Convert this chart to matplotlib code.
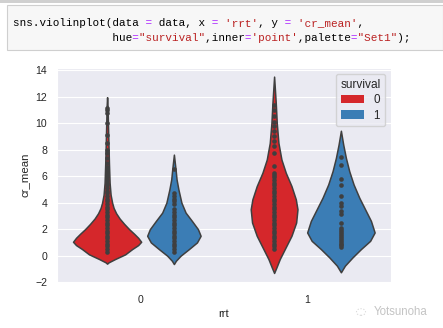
import numpy as np
import matplotlib
matplotlib.use("Agg")
import matplotlib.pyplot as plt
import seaborn as sns
from matplotlib.patches import Rectangle, Patch, Circle

# violin outlines: y value -> half width (category units)
groups = ["0", "1"]
hues = ["0", "1"]
colors = ["#D5272B", "#3B7DB5"]

red0_y = [-0.6, -0.5, -0.25, 0.1, 0.5, 0.8, 1.05, 1.35, 1.65, 2.0, 2.4, 2.8, 3.2, 3.6, 4.0, 4.6, 5.5, 7.0, 8.5, 10.0, 11.2, 11.95]
red0_w = [0, .009, .048, .108, .150, .186, .204, .186, .162, .132, .102, .075, .054, .039, .030, .021, .015, .011, .008, .005, .003, 0]
blue0_y = [-0.63, -0.38, 0.0, 0.5, 1.0, 1.5, 2.0, 2.62, 3.25, 4.0, 4.5, 5.0, 5.75, 6.5, 7.62]
blue0_w = [0, .012, .040, .090, .138, .160, .144, .108, .070, .045, .036, .027, .016, .010, 0]
red1_y = [-1.3, -0.88, -0.25, 0.5, 1.5, 2.5, 3.5, 4.25, 5.25, 6.25, 7.25, 8.5, 10.0, 11.5, 13.5]
red1_w = [0, .014, .034, .064, .104, .132, .140, .130, .104, .070, .044, .026, .016, .010, 0]
blue1_y = [-1.25, -0.75, -0.12, 0.5, 1.12, 1.75, 2.62, 3.37, 4.37, 5.37, 6.37, 7.37, 8.37, 9.42]
blue1_w = [0, .024, .070, .120, .175, .202, .180, .150, .110, .076, .050, .030, .014, 0]

# individual observations (inner='point')
red0_pts = [0.3, 0.5, 0.7, 0.9, 1.1, 1.3, 1.5, 1.7, 1.9, 2.1, 2.3, 2.5, 2.7, 2.9, 3.1, 3.3, 3.5,
            3.7, 3.9, 4.1, 4.3, 4.5, 4.7, 4.9, 5.1, 5.3, 5.5, 5.7, 5.9, 6.1, 6.3, 6.5, 6.7, 7.0,
            7.4, 7.75, 8.0, 8.5, 9.1, 10.0, 10.75, 10.95, 11.1]
blue0_pts = [0.3, 0.5, 0.7, 0.9, 1.1, 1.3, 1.5, 1.7, 1.9, 2.1, 2.3, 2.5, 2.7, 2.9, 3.1, 3.3, 3.5,
             3.9, 4.1, 4.3, 4.5, 4.7, 6.5]
red1_pts = [0.5, 0.7, 0.9, 1.1, 1.3, 1.5, 1.7, 1.9, 2.1, 2.3, 2.5, 2.7, 2.9, 3.1, 3.3, 3.5, 3.7,
            3.9, 4.1, 4.3, 4.5, 4.7, 4.9, 5.1, 5.3, 5.5, 5.7, 5.9, 6.1, 6.25, 6.75, 7.75, 8.25,
            8.62, 9.0, 9.37, 9.75, 10.1, 10.5, 11.0, 11.37]
blue1_pts = [0.62, 0.77, 0.92, 1.07, 1.22, 1.37, 1.52, 1.67, 1.82, 1.97, 2.12, 2.5, 3.12, 3.37,
             3.75, 4.0, 4.5, 5.3, 5.75, 6.87, 7.45]

violins = [
    (0, 0, red0_y, red0_w, red0_pts),
    (0, 1, blue0_y, blue0_w, blue0_pts),
    (1, 0, red1_y, red1_w, red1_pts),
    (1, 1, blue1_y, blue1_w, blue1_pts),
]

code1 = "sns.violinplot(data = data, x = 'rrt', y = 'cr_mean',"
code2 = "               hue=\"survival\",inner='point',palette=\"Set1\");"

sns.set_style("darkgrid")
plt.rcParams['font.family'] = ['Liberation Sans', 'DejaVu Sans']

fig = plt.figure(figsize=(4.43, 3.28), dpi=100)
W, H = 443, 328

# notebook code cell
fig.patches.append(Rectangle((0, 1 - 3 / H), 1, 3 / H, transform=fig.transFigure,
                             facecolor="#D0D0D0", edgecolor="none"))
fig.patches.append(Rectangle((7 / W, 1 - 50 / H), 436 / W, 45 / H, transform=fig.transFigure,
                             facecolor="#F7F7F7", edgecolor="#CFCFCF", linewidth=0.8))


def mask(s, keep):
    return "".join(c if keep(i, c) else " " for i, c in enumerate(s))


def colour_map(s):
    # 'k' default, 'p' for '=', 'r' inside quotes
    out = []
    inq = None
    for c in s:
        if inq:
            out.append('r')
            if c == inq:
                inq = None
        elif c in "'\"":
            inq = c
            out.append('r')
        elif c == "=":
            out.append('p')
        else:
            out.append('k')
    return out


for line, ypx in [(code1, 23), (code2, 38)]:
    cm = colour_map(line)
    for key, col in [('k', '#000000'), ('p', '#AA22FF'), ('r', '#BA2121')]:
        fig.text(13 / W, 1 - ypx / H, mask(line, lambda i, c: cm[i] == key),
                 family='Liberation Mono', fontsize=7.9, color=col, va='center', ha='left')

ax = fig.add_axes([57 / W, 1 - 282.5 / H, 334 / W, 214.5 / H])
edge = "#3F3F3F"
for xi, hi, ys, ws, pts in violins:
    cx = xi + (-0.2 if hi == 0 else 0.2)
    ys = np.array(ys)
    ws = np.array(ws)
    ax.fill_betweenx(ys, cx - ws, cx + ws, facecolor=colors[hi], edgecolor=edge,
                     linewidth=1.1, zorder=2)
    ax.scatter(np.full(len(pts), cx), pts, s=11, color=edge, linewidth=0, zorder=3)

ax.set_xlim(-0.5, 1.5)
ax.set_ylim(-2.02, 14.15)
ax.set_xticks([0, 1])
ax.set_xticklabels(groups)
ax.set_yticks(np.arange(-2, 15, 2))
ax.tick_params(labelsize=7.6, colors="#262626", length=0)
ax.tick_params(axis='y', pad=7)
ax.tick_params(axis='x', pad=9)
ax.xaxis.grid(False)
ax.set_xlabel("rrt", fontsize=8.2, color="#262626", labelpad=3)
ax.set_ylabel("cr_mean", fontsize=8.2, color="#262626", labelpad=4)

handles = [Patch(facecolor=colors[i], edgecolor='none', label=hues[i]) for i in range(2)]
leg = ax.legend(handles=handles, title="survival", loc="upper right", fontsize=8.4,
                title_fontsize=8.6, handlelength=2.0, borderpad=0.4, labelspacing=0.3,
                handletextpad=0.8)

# watermark
fig.patches.append(Circle((361 / W, 1 - 312 / H), 4.5 / W, transform=fig.transFigure,
                          facecolor='none', edgecolor='#D8D8D8', linestyle=':', linewidth=0.8))
fig.text(374 / W, 1 - 312 / H, "Yotsunoha", fontsize=8.3, color="#C4C4C4", va='center', ha='left')

fig.savefig("out.png", dpi=100)
